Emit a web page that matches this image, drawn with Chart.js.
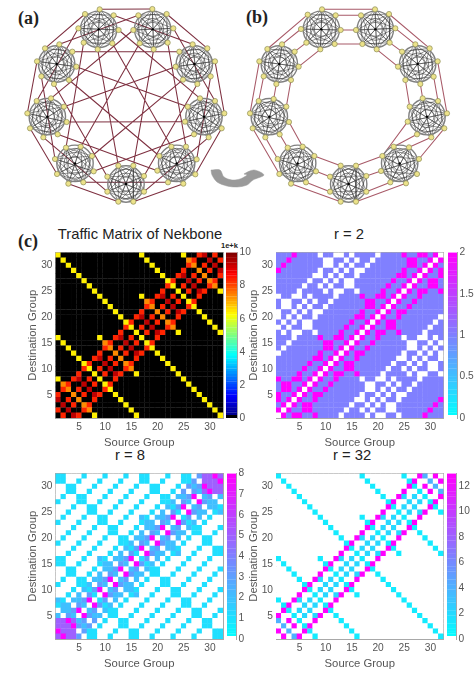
<!DOCTYPE html>
<html>
<head>
<meta charset="utf-8">
<script src="https://cdn.jsdelivr.net/npm/chart.js@4"></script>
<style>
  html, body { margin: 0; background: #fff; overflow: hidden; width: 474px; height: 674px; }
  canvas { position: absolute; filter: blur(0.45px); }
  .txt { position: absolute; white-space: nowrap; color: #222; font-family: "Liberation Sans", sans-serif; }
  .title { font-size: 14.8px; transform: translateX(-50%); line-height: 17px; }
  .tag { font-family: "Liberation Serif", serif; font-weight: bold; font-size: 18px; line-height: 18px; }
</style>
</head>
<body>
<div class="txt tag" style="left:18px;top:9px">(a)</div>
<div class="txt tag" style="left:246px;top:8px">(b)</div>
<div class="txt tag" style="left:18px;top:232px">(c)</div>
<div class="txt title" style="left:140px;top:226px">Traffic Matrix of Nekbone</div>
<div class="txt title" style="left:349px;top:226px">r = 2</div>
<div class="txt title" style="left:130px;top:447px">r = 8</div>
<div class="txt title" style="left:352px;top:447px">r = 32</div>
<div class="txt" style="left:221px;top:241px;font-size:7.5px;font-weight:bold">1e+k</div>
<script>
// each row is one Destination Group, top row = 32, groups of 8 Source Groups. '.' = 0, hex digit = value
const trafficRows = [
  "6....... ........ 6....... 6..89.8.", ".6...... ........ .6...... .78..9.8",
  "..6..... ........ ..6..... .87.8.9.", "...6.... ........ ...6.... 8..7.8.9",
  "....6... ........ ....6..8 9.8.7..8", ".....6.. ........ .....68. .9.8.78.",
  "......6. ........ .....86. 8.9..87.", ".......6 ........ ....8..6 .8.98..6",
  "........ 6....... 6..89.8. 6..8....", "........ .6...... .78..9.8 .68.....",
  "........ ..6..... .87.8.9. .86.....", "........ ...6.... 8..7.8.9 8..6....",
  "........ ....6..8 9.8.7..8 ....6...", "........ .....68. .9.8.78. .....6..",
  "........ .....86. 8.9..87. ......6.", "........ ....8..6 .8.98..6 .......6",
  "6....... 6..89.8. 6..8.... ........", ".6...... .78..9.8 .68..... ........",
  "..6..... .87.8.9. .86..... ........", "...6.... 8..7.8.9 8..6.... ........",
  "....6..8 9.8.7..8 ....6... ........", ".....68. .9.8.78. .....6.. ........",
  ".....86. 8.9..87. ......6. ........", "....8..6 .8.98..6 .......6 ........",
  "6..89.8. 6..8.... ........ 6.......", ".78..9.8 .68..... ........ .6......",
  ".87.8.9. .86..... ........ ..6.....", "8..7.8.9 8..6.... ........ ...6....",
  "9.8.7..8 ....6... ........ ....6...", ".9.8.78. .....6.. ........ .....6..",
  "8.9..87. ......6. ........ ......6.", ".8.98..6 .......6 ........ .......6"
];
const r2Rows = [
  "11121111 .11..1.1 111.1111 2112212.", "11211111 1..11.1. 11.11111 122112.2",
  "12111111 1..1.1.1 1.111111 12212.21", "21111111 .11.1.1. .1111111 2112.212",
  "1111111. .1.1.11. 11111112 212.2112", "111111.1 1.1.1..1 11111121 12.21221",
  "11111.11 .1.11..1 11111211 2.211221", "1111.111 1.1..11. 11112112 .2122112",
  ".11..1.1 111.1111 2112212. 21121111", "1..11.1. 11.11111 122112.2 11211111",
  "1..1.1.1 1.111111 12212.21 12111111", ".11.1.1. .1111111 2112.212 21111111",
  ".1.1.11. 11111112 212.2112 1111111.", "1.1.1..1 11111121 12.21221 111111.1",
  ".1.11..1 11111211 2.211221 11111.11", "1.1..11. 11112112 .2122112 1111.111",
  "111.1111 2112212. 21121111 .11..1.1", "11.11111 122112.2 11211111 1..11.1.",
  "1.111111 12212.21 12111111 1..1.1.1", ".1111111 2112.212 21111111 .11.1.1.",
  "11111112 212.2112 1111111. .1.1.11.", "11111121 12.21221 111111.1 1.1.1..1",
  "11111211 2.211221 11111.11 .1.11..1", "11112112 .2122112 1111.111 1.1..11.",
  "2112212. 21121111 .11..1.1 111.1111", "122112.2 11211111 1..11.1. 11.11111",
  "12212.21 12111111 1..1.1.1 1.111111", "2112.212 21111111 .11.1.1. .1111111",
  "212.2112 1111111. .1.1.11. 11111112", "12.21221 111111.1 1.1.1..1 11111121",
  "2.211221 11111.11 .1.11..1 11111211", ".2122112 1111.111 1.1..11. 11112111"
];
const r8Rows = [
  "11...1.. .1...1.. 11...1.. 11.35585", "11..1... 1...1... 11..1... 113.5558",
  "..11...1 ...1...1 ..11...1 .3238555", "..11..1. ..1...1. ..11..1. 3.325855",
  ".1..11.. .1...1.. .1..11.2 238.23.2", "1...11.. 1...1... 1...112. 32.8322.",
  "...1..11 ...1...1 ...1.213 8.23.221", "..1...11 ..1...1. ..1.2.31 .8322.12",
  ".1...1.. 11...1.. 21.2238. 13.2.1..", "1...1... 11..1... 122.32.8 312.1...",
  "...1...1 ..11...1 .2238.23 .211...1", "..1...1. ..11..1. 2.32.832 2.11..1.",
  ".1...1.. .1..11.2 238.23.2 .1..11..", "1...1... 1...112. 32.8322. 1...11..",
  "...1...1 ...1.213 8.23.221 ...1..11", "..1...1. ..1.2.31 .8322.12 ..1...11",
  "11...1.. 21.2238. 13.2.1.. .1...1..", "11..1... 122.32.8 312.1... 1...1...",
  "..11...1 .2238.23 .211...1 ...1...1", "..11..1. 2.32.832 2.11..1. ..1...1.",
  ".1..11.2 238.23.2 .1..11.. .1...1..", "1...112. 32.8322. 1...11.. 1...1...",
  "...1.213 8.23.221 ...1..11 ...1...1", "..1.2.31 .8322.12 ..1...11 ..1...1.",
  "21.2238. 13.2.1.. .1...1.. 11...1..", "122.32.8 312.1... 1...1... 11..1...",
  ".2238.23 .211...1 ...1...1 ..11...1", "2.32.832 2.11..1. ..1...1. ..11..1.",
  "558523.3 .1..11.. .1...1.. .1..11..", "5558323. 1...11.. 1...1... 1...11..",
  "8555.311 ...1..11 ...1...1 ...1..11", "58553.11 ..1...11 ..1...1. ..1...11"
];
const r32Rows = [
  "1....... ........ 1....... 1..d4.d.", ".1...... ........ .1...... .1d..4.d",
  "..1..... ........ ..1..... .d1.d.4.", "...1.... ........ ...1.... d..1.d.4",
  "....1... ........ ....1..d 2.2.1..d", ".....1.. ........ .....1d. .2.2.1d.",
  "......1. ........ .....d1. 2.2..d1.", ".......1 ........ ....d..1 .2.2d..1",
  "........ 1....... 1..d2.2. 1..d....", "........ .1...... .1d..2.2 .1d.....",
  "........ ..1..... .d1.2.2. .d1.....", "........ ...1.... d..1.2.2 d..1....",
  "........ ....1..d 2.2.1..d ....1...", "........ .....1d. .2.2.1d. .....1..",
  "........ .....d1. 2.2..d1. ......1.", "........ ....d..1 .2.2d..1 .......1",
  "1....... 1..d2.2. 1..d.... ........", ".1...... .1d..2.2 .1d..... ........",
  "..1..... .d1.2.2. .d1..... ........", "...1.... d..1.2.2 d..1.... ........",
  "....1..d 2.2.1..d ....1... ........", ".....1d. .2.2.1d. .....1.. ........",
  ".....d1. 2.2..d1. ......1. ........", "....d..1 .2.2d..1 .......1 ........",
  "1..d2.2. 1..d.... ........ 1.......", ".1d..2.2 .1d..... ........ .1......",
  ".d1.2.2. .d1..... ........ ..1.....", "d..1.2.2 d..1.... ........ ...1....",
  "4.d.1..d ....1... ........ ....1...", ".4.d.1d. .....1.. ........ .....1..",
  "d.4..d1. ......1. ........ ......1.", ".d.4d..1 .......1 ........ .......1"
];

const groupTicks = [5, 10, 15, 20, 25, 30];
const trafficBarTicks = [0, 2, 4, 6, 8, 10];
const r2BarTicks = [0, 0.5, 1, 1.5, 2];
const r8BarTicks = [0, 1, 2, 3, 4, 5, 6, 7, 8];
const r32BarTicks = [0, 2, 4, 6, 8, 10, 12];

// network drawings, in the 3x crop units of each panel. 8 yellow nodes per cluster, clockwise
const netACenters = [[296,88],[458,88],[583,192],[612,350],[530,490],[378,552],[225,490],[142,350],[170,192]];
const netANodes = [
  [299,28],[341,46],[356,90],[337,130],[293,148],[251,128],[235,85],[255,42],
  [457,27],[500,42],[520,85],[503,128],[461,148],[419,130],[400,90],[415,46],
  [578,133],[622,145],[645,184],[632,229],[592,252],[549,239],[527,200],[538,155],
  [600,295],[645,303],[673,340],[665,385],[626,412],[582,403],[555,365],[563,320],
  [514,440],[558,440],[590,478],[586,523],[550,551],[504,547],[472,512],[478,468],
  [355,497],[400,497],[432,528],[432,575],[400,605],[355,605],[322,575],[322,530],
  [198,443],[242,440],[276,468],[281,514],[250,547],[205,551],[171,522],[165,477],
  [153,295],[192,320],[200,366],[173,403],[130,412],[90,385],[82,340],[110,303],
  [178,133],[217,155],[229,200],[207,240],[162,252],[124,229],[111,184],[135,145]
];
// [cluster, node, cluster, node]
const netALinks = [
  [0,0,1,0],[1,1,2,1],[2,2,3,2],[3,3,4,3],[4,4,5,4],[5,5,6,5],[6,6,7,5],[7,6,8,6],[8,7,0,7],
  [0,1,2,0],[1,2,3,1],[2,3,4,2],[3,4,5,3],[4,5,6,4],[5,6,7,4],[6,7,8,5],[7,7,0,6],[8,0,1,7],
  [0,2,3,0],[1,3,4,1],[2,4,5,2],[3,5,6,3],[4,6,7,3],[5,7,8,4],[6,0,0,5],[7,0,1,6],[8,1,2,7],
  [0,3,4,0],[1,4,5,1],[2,5,6,2],[3,6,7,2],[4,7,8,3],[5,0,0,4],[6,1,1,5],[7,1,2,6],[8,2,3,7]
];
const netBCenters = [[253,88],[415,88],[542,192],[570,350],[488,490],[335,552],[182,490],[97,350],[127,192]];
const netBNodes = [
  [255,28],[296,46],[311,90],[293,132],[250,148],[208,128],[192,87],[212,44],
  [414,28],[456,42],[475,85],[458,128],[419,148],[376,132],[357,90],[372,46],
  [535,133],[578,145],[602,184],[590,230],[550,252],[505,240],[483,200],[495,155],
  [557,295],[603,303],[630,340],[622,385],[583,412],[540,403],[512,365],[518,320],
  [470,440],[516,442],[546,477],[540,522],[507,550],[460,547],[432,513],[436,468],
  [311,497],[357,497],[388,528],[388,575],[357,605],[311,605],[279,575],[279,530],
  [152,443],[197,440],[232,468],[237,514],[207,547],[162,551],[127,522],[122,477],
  [110,297],[148,320],[156,366],[128,403],[85,412],[47,385],[39,340],[65,303],
  [135,133],[173,155],[185,200],[162,240],[118,252],[80,229],[67,184],[91,147]
];
const netBLinks = [
  [0,0,1,0],[0,1,1,7],[0,2,1,6],[0,3,1,5],[1,1,2,1],[1,2,2,0],[1,3,2,7],[1,4,2,6],
  [2,2,3,2],[2,3,3,1],[2,4,3,0],[2,5,3,7],[3,3,4,2],[3,4,4,1],[3,5,4,0],[3,6,4,7],
  [4,7,5,1],[4,6,5,2],[4,5,5,3],[4,4,5,4],[5,0,6,2],[5,7,6,3],[5,6,6,4],[5,5,6,5],
  [6,1,7,2],[6,0,7,3],[6,7,7,4],[6,6,7,5],[7,6,8,6],[7,7,8,5],[7,0,8,4],[7,1,8,3],
  [8,7,0,7],[8,0,0,6],[8,1,0,5],[8,2,0,4]
];
const arrowX = [211, 220, 224, 232, 240, 247, 244, 254, 264, 253, 247, 237, 227, 217, 212, 211];
const arrowY = [170, 170, 177, 180, 179, 175, 174, 170, 175, 180, 185, 187, 186, 182, 175, 170];

const clamp = v => Math.max(0, Math.min(1, v));
const rgb = (r, g, b) => `rgb(${Math.round(r * 255)},${Math.round(g * 255)},${Math.round(b * 255)})`;

function jetColor(t) {
  if (t <= 0.015) return '#000';
  return rgb(clamp(1.5 - Math.abs(4 * t - 3)), clamp(1.5 - Math.abs(4 * t - 2)), clamp(1.5 - Math.abs(4 * t - 1)));
}
function coolColor(t) {
  if (t <= 0) return '#fff';
  return rgb(t, 1 - t, 1);
}

function parseRows(rows) {
  const cells = [];
  rows.forEach((row, r) => {
    const chars = row.replace(/ /g, '');
    for (let c = 0; c < chars.length; c++) {
      const v = chars[c] === '.' ? 0 : parseInt(chars[c], 16);
      cells.push({ x: c + 1, y: 32 - r, v });
    }
  });
  return cells;
}

function addCanvas(left, top, width, height) {
  const canvas = document.createElement('canvas');
  canvas.width = width;
  canvas.height = height;
  canvas.style.left = left + 'px';
  canvas.style.top = top + 'px';
  document.body.appendChild(canvas);
  return canvas;
}

const TICK_FONT = { family: 'Liberation Sans', size: 10.2 };
const GREY = '#555';
const BOX = '#a8a8a8';
const baseOptions = {
  responsive: false,
  animation: false,
  events: [],
  plugins: { legend: { display: false }, tooltip: { enabled: false } }
};

function groupScale(position, titleText, padding) {
  return {
    type: 'linear',
    position,
    min: 0.5,
    max: 32.5,
    afterBuildTicks: s => { s.ticks = groupTicks.map(value => ({ value })); },
    afterFit: s => {
      if (position === 'left') s.width = padding; else s.height = 32;
    },
    ticks: { color: GREY, font: TICK_FONT, padding: 3, maxRotation: 0, autoSkip: false },
    grid: { drawOnChartArea: false, drawTicks: false },
    border: { color: BOX },
    title: {
      display: true,
      text: titleText,
      color: GREY,
      font: { family: 'Liberation Sans', size: 11.3 },
      padding: position === 'left' ? { top: 10, bottom: 0 } : { top: 5, bottom: 0 }
    }
  };
}
function edgeScale(position) {
  return {
    type: 'linear',
    position,
    min: 0,
    max: 1,
    afterFit: s => {
      if (position === 'right') s.width = 0; else s.height = 0;
    },
    ticks: { display: false },
    grid: { drawOnChartArea: false, drawTicks: false },
    border: { color: BOX }
  };
}

function heatmap(left, top, leftWidth, rows, colorOf) {
  const canvas = addCanvas(left, top, 208, 224);
  new Chart(canvas, {
    type: 'scatter',
    data: {
      datasets: [{
        data: parseRows(rows),
        pointStyle: 'rect',
        pointRadius: 5.6 * Math.SQRT1_2,
        pointBorderWidth: 0,
        pointBackgroundColor: ctx => colorOf(ctx.raw.v)
      }]
    },
    options: {
      ...baseOptions,
      layout: { autoPadding: false, padding: { top: 26.5, right: 208 - leftWidth - 167.5, left: 0, bottom: 0 } },
      scales: {
        x: groupScale('bottom', 'Source Group'),
        y: groupScale('left', 'Destination Group', leftWidth),
        xEdge: edgeScale('top'),
        yEdge: edgeScale('right')
      }
    }
  });
}

function colorbar(left, top, barWidth, max, ticks, colorOf) {
  const canvas = addCanvas(left, top, barWidth + 24, 224);
  const levels = 64;
  const datasets = [];
  for (let i = 0; i < levels; i++) {
    const col = colorOf(i / (levels - 1));
    datasets.push({ data: [max / levels], backgroundColor: col, borderColor: col, borderWidth: 0.3 });
  }
  new Chart(canvas, {
    type: 'bar',
    data: { labels: [''], datasets },
    options: {
      ...baseOptions,
      barPercentage: 1,
      categoryPercentage: 1,
      layout: { autoPadding: false, padding: { top: 26.5, bottom: 32, left: 0, right: 0 } },
      scales: {
        x: { stacked: true, display: false },
        y: {
          stacked: true,
          position: 'right',
          min: 0,
          max,
          afterBuildTicks: s => { s.ticks = ticks.map(value => ({ value })); },
          afterFit: s => { s.width = 24; },
          ticks: { color: GREY, font: TICK_FONT, padding: 2.5, autoSkip: false, callback: v => String(v) },
          grid: { display: false, drawTicks: false },
          border: { color: BOX }
        }
      }
    }
  });
}

function pairs(list) {
  return list.map(p => ({ x: p[0], y: p[1] }));
}

function network(left, top, centers, nodes, links, linkColor) {
  const canvas = addCanvas(left, top, 237, 220);
  const linkData = [];
  links.forEach(l => {
    const a = nodes[l[0] * 8 + l[1]];
    const b = nodes[l[2] * 8 + l[3]];
    linkData.push({ x: a[0], y: a[1] }, { x: b[0], y: b[1] }, { x: null, y: null });
  });
  const meshData = [];
  centers.forEach((c, k) => {
    for (let i = 0; i < 8; i++) {
      const from = nodes[k * 8 + i];
      [i + 4, i + 3, i + 2].forEach(j => {
        const to = nodes[k * 8 + (j % 8)];
        meshData.push({ x: from[0], y: from[1] }, { x: to[0], y: to[1] }, { x: null, y: null });
      });
    }
  });
  const ring = (radius, width, color) => ({
    data: pairs(centers),
    pointRadius: radius,
    pointBorderWidth: width,
    pointBorderColor: color,
    pointBackgroundColor: 'transparent'
  });
  new Chart(canvas, {
    type: 'scatter',
    data: {
      // the first dataset ends up on top
      datasets: [
        { data: pairs(nodes), pointRadius: 2.6, pointBorderWidth: 0.7, pointBorderColor: '#8c8c58', pointBackgroundColor: '#ece28a' },
        { data: pairs(centers), pointRadius: 1.2, pointBorderWidth: 0, pointBackgroundColor: '#000' },
        ring(18.2, 1.4, '#808080'),
        ring(15, 0.6, '#333'),
        ring(11, 0.6, '#333'),
        ring(7, 0.6, '#333'),
        { data: meshData, showLine: true, spanGaps: false, borderColor: '#3c3c3c', borderWidth: 0.55, pointRadius: 0 },
        { data: linkData, showLine: true, spanGaps: false, borderColor: linkColor, borderWidth: 1.05, pointRadius: 0 }
      ]
    },
    options: {
      ...baseOptions,
      layout: { autoPadding: false },
      scales: {
        x: { type: 'linear', display: false, min: 0, max: 711 },
        y: { type: 'linear', display: false, min: 0, max: 660, reverse: true }
      }
    }
  });
}

function arrow() {
  const canvas = addCanvas(205, 165, 64, 26);
  new Chart(canvas, {
    type: 'scatter',
    data: {
      datasets: [{
        data: arrowX.map((x, i) => ({ x, y: arrowY[i] })),
        showLine: true,
        fill: 'shape',
        tension: 0.3,
        borderWidth: 0.5,
        borderColor: '#9a9a9a',
        backgroundColor: '#9a9a9a',
        pointRadius: 0
      }]
    },
    options: {
      ...baseOptions,
      layout: { autoPadding: false },
      scales: {
        x: { type: 'linear', display: false, min: 205, max: 269 },
        y: { type: 'linear', display: false, min: 165, max: 191, reverse: true }
      }
    }
  });
}

network(0, 0, netACenters, netANodes, netALinks, '#7e3040');
network(237, 0, netBCenters, netBNodes, netBLinks, '#a85a68');
arrow();

heatmap(16, 226, 39.5, trafficRows, v => jetColor(v ? v / 10 + 0.04 : 0));
heatmap(237, 226, 39, r2Rows, v => coolColor(v / 2));
heatmap(16, 447, 39.5, r8Rows, v => coolColor(v / 8));
heatmap(237, 447, 39, r32Rows, v => coolColor(v / 13));

colorbar(226, 226, 11, 10, trafficBarTicks, jetColor);
colorbar(448, 226, 9, 2, r2BarTicks, coolColor);
colorbar(227, 447, 9, 8, r8BarTicks, coolColor);
colorbar(447, 447, 9, 13, r32BarTicks, coolColor);
</script>
</body>
</html>
